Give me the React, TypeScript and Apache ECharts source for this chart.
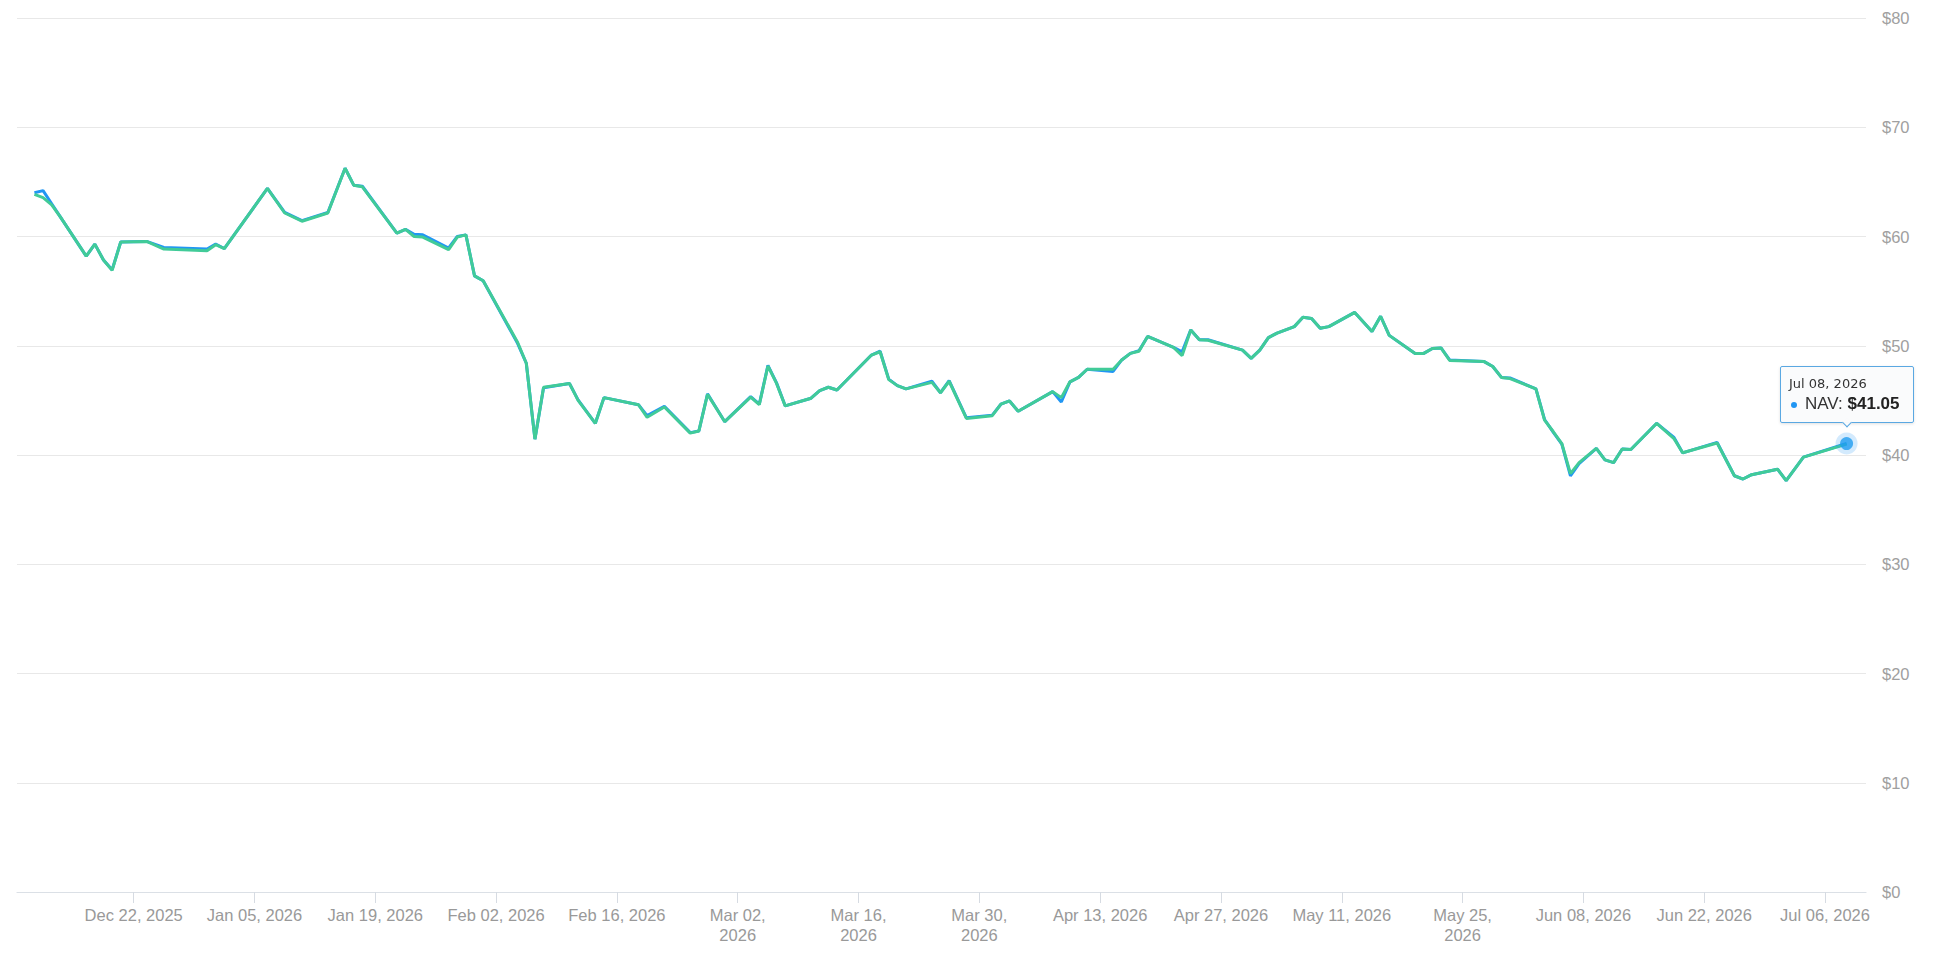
import { useEffect, useRef } from 'react'
import * as echarts from 'echarts'

// trading days
const dates = [
  '2025-12-10', '2025-12-11', '2025-12-12', '2025-12-13', '2025-12-16', '2025-12-17', '2025-12-18', '2025-12-19',
  '2025-12-20', '2025-12-23', '2025-12-25', '2025-12-30', '2025-12-31', '2026-01-01', '2026-01-06', '2026-01-08',
  '2026-01-10', '2026-01-13', '2026-01-15', '2026-01-16', '2026-01-17', '2026-01-21', '2026-01-22', '2026-01-23',
  '2026-01-24', '2026-01-27', '2026-01-28', '2026-01-29', '2026-01-30', '2026-01-31', '2026-02-04', '2026-02-05',
  '2026-02-06', '2026-02-07', '2026-02-10', '2026-02-11', '2026-02-13', '2026-02-14', '2026-02-18', '2026-02-19',
  '2026-02-21', '2026-02-24', '2026-02-25', '2026-02-26', '2026-02-28', '2026-03-03', '2026-03-04', '2026-03-05',
  '2026-03-06', '2026-03-07', '2026-03-10', '2026-03-11', '2026-03-12', '2026-03-13', '2026-03-17', '2026-03-18',
  '2026-03-19', '2026-03-20', '2026-03-21', '2026-03-24', '2026-03-25', '2026-03-26', '2026-03-28', '2026-03-31',
  '2026-04-01', '2026-04-02', '2026-04-03', '2026-04-07', '2026-04-08', '2026-04-09', '2026-04-10', '2026-04-11',
  '2026-04-14', '2026-04-15', '2026-04-16', '2026-04-17', '2026-04-18', '2026-04-21', '2026-04-22', '2026-04-23',
  '2026-04-24', '2026-04-25', '2026-04-29', '2026-04-30', '2026-05-01', '2026-05-02', '2026-05-03', '2026-05-05',
  '2026-05-06', '2026-05-07', '2026-05-08', '2026-05-09', '2026-05-12', '2026-05-14', '2026-05-15', '2026-05-16',
  '2026-05-19', '2026-05-20', '2026-05-21', '2026-05-22', '2026-05-23', '2026-05-27', '2026-05-28', '2026-05-29',
  '2026-05-30', '2026-06-02', '2026-06-03', '2026-06-04', '2026-06-05', '2026-06-06', '2026-06-07', '2026-06-09',
  '2026-06-10', '2026-06-11', '2026-06-12', '2026-06-13', '2026-06-16', '2026-06-18', '2026-06-19', '2026-06-23',
  '2026-06-25', '2026-06-26', '2026-06-27', '2026-06-30', '2026-07-01', '2026-07-03', '2026-07-08',
]

const navValues = [
  64.0, 64.2, 63.0, 61.8, 58.2, 59.3, 57.85, 56.95,
  59.5, 59.55, 59.0, 58.85, 59.3, 58.9, 64.4, 62.2,
  61.45, 62.2, 66.25, 64.7, 64.6, 60.3, 60.65, 60.2,
  60.15, 58.95, 60.0, 60.15, 56.4, 55.95, 50.2, 48.4,
  41.45, 46.15, 46.55, 45.05, 42.9, 45.25, 44.6, 43.6,
  44.45, 42.05, 42.2, 45.6, 43.05, 45.35, 44.65, 48.2,
  46.6, 44.5, 45.2, 45.9, 46.2, 45.95, 49.15, 49.5,
  46.95, 46.35, 46.05, 46.75, 45.7, 46.8, 43.4, 43.65,
  44.65, 44.95, 44.0, 45.8, 44.85, 46.7, 47.1, 47.85,
  47.65, 48.7, 49.3, 49.55, 50.85, 49.85, 49.45, 51.45,
  50.55, 50.55, 49.6, 48.85, 49.6, 50.75, 51.15, 51.75,
  52.6, 52.5, 51.6, 51.75, 53.05, 51.3, 52.7, 50.95,
  49.3, 49.3, 49.75, 49.8, 48.7, 48.55, 48.1, 47.1,
  47.05, 46.05, 43.25, 42.1, 41.0, 38.1, 39.2, 40.6,
  39.55, 39.3, 40.55, 40.5, 42.9, 41.6, 40.2, 41.15,
  38.1, 37.8, 38.2, 38.7, 37.65, 39.8, 41.05,
]

const priceValues = [
  63.85, 63.55, 62.9, 61.8, 58.2, 59.3, 57.85, 56.9,
  59.5, 59.55, 58.85, 58.7, 59.25, 58.9, 64.4, 62.15,
  61.4, 62.15, 66.25, 64.7, 64.55, 60.3, 60.65, 60.0,
  59.95, 58.8, 59.95, 60.15, 56.4, 55.95, 50.3, 48.4,
  41.45, 46.2, 46.55, 45.0, 42.9, 45.25, 44.6, 43.45,
  44.4, 42.0, 42.2, 45.55, 43.05, 45.3, 44.6, 48.15,
  46.55, 44.5, 45.2, 45.9, 46.2, 45.95, 49.15, 49.45,
  46.9, 46.35, 46.05, 46.65, 45.7, 46.75, 43.35, 43.6,
  44.65, 44.95, 44.0, 45.8, 45.25, 46.7, 47.1, 47.85,
  47.85, 48.7, 49.3, 49.5, 50.85, 49.85, 49.1, 51.45,
  50.55, 50.5, 49.6, 48.85, 49.6, 50.75, 51.15, 51.75,
  52.6, 52.5, 51.6, 51.75, 53.05, 51.3, 52.7, 50.95,
  49.3, 49.3, 49.75, 49.8, 48.65, 48.55, 48.1, 47.1,
  47.0, 46.05, 43.2, 42.15, 41.05, 38.3, 39.3, 40.6,
  39.55, 39.3, 40.55, 40.5, 42.9, 41.5, 40.2, 41.1,
  38.1, 37.8, 38.2, 38.7, 37.65, 39.8, 41.0,
]

const tickDates = [
  '2025-12-22', '2026-01-05', '2026-01-19', '2026-02-02', '2026-02-16', '2026-03-02', '2026-03-16', '2026-03-30',
  '2026-04-13', '2026-04-27', '2026-05-11', '2026-05-25', '2026-06-08', '2026-06-22', '2026-07-06',
]

const tickLabels = [
  'Dec 22, 2025', 'Jan 05, 2026', 'Jan 19, 2026', 'Feb 02, 2026', 'Feb 16, 2026', 'Mar 02,\n2026', 'Mar 16,\n2026',
  'Mar 30,\n2026', 'Apr 13, 2026', 'Apr 27, 2026', 'May 11, 2026', 'May 25,\n2026', 'Jun 08, 2026', 'Jun 22, 2026',
  'Jul 06, 2026',
]

const MONTHS = ['Jan', 'Feb', 'Mar', 'Apr', 'May', 'Jun', 'Jul', 'Aug', 'Sep', 'Oct', 'Nov', 'Dec']

const toTime = (s: string, hour = 0) => {
  const [y, m, d] = s.split('-').map(Number)
  return Date.UTC(y, m - 1, d, hour)
}

const fmtDate = (t: number) => {
  const d = new Date(t)
  return `${MONTHS[d.getUTCMonth()]} ${String(d.getUTCDate()).padStart(2, '0')}, ${d.getUTCFullYear()}`
}

export default function App() {
  const chartRef = useRef<HTMLDivElement>(null)

  useEffect(() => {
    if (!chartRef.current) return
    const chart = echarts.init(chartRef.current, undefined, { renderer: 'svg' })

    const tickTimes = tickDates.map(d => toTime(d))
    const navData = dates.map((d, i) => [toTime(d, 12), navValues[i]])
    const priceData = dates.map((d, i) => [toTime(d, 12), priceValues[i]])
    const last = navData[navData.length - 1]

    chart.setOption({
      animation: false,
      grid: { left: 17, right: 68, top: 18, bottom: 68 },
      tooltip: {
        trigger: 'item',
        triggerOn: 'none',
        position: 'top',
        alwaysShowContent: true,
        transitionDuration: 0,
        backgroundColor: 'rgba(250,251,252,0.97)',
        borderColor: '#5aa8e2',
        borderWidth: 1,
        padding: [7, 13, 7, 8],
        extraCssText: 'box-shadow: 0 1px 3px rgba(0,0,0,0.12); border-radius: 2px;',
        formatter: (p: any) =>
          `<div style="font-family:'DejaVu Sans',sans-serif;font-size:13px;line-height:19px;color:#333">${fmtDate(p.value[0])}</div>` +
          `<div style="font-family:'Liberation Sans',Arial,sans-serif;font-size:17px;line-height:22px;color:#333">` +
          `<span style="display:inline-block;width:6px;height:6px;border-radius:3px;background:#2196f3;margin:0 8px 0 2px;vertical-align:middle"></span>` +
          `NAV: <b style="color:#222">$${p.value[1].toFixed(2)}</b></div>`,
      },
      xAxis: {
        type: 'value',
        min: Date.UTC(2025, 11, 8, 11, 30),
        max: Date.UTC(2026, 6, 10, 18),
        axisLine: { show: true, onZero: false, lineStyle: { color: '#dbe0e6', width: 1.2 } },
        axisTick: { show: true, length: 11, customValues: tickTimes, lineStyle: { color: '#d6dbe2' } },
        axisLabel: {
          customValues: tickTimes,
          color: '#999',
          fontSize: 16.5,
          fontFamily: 'Liberation Sans, Arial, sans-serif',
          lineHeight: 20,
          margin: 13,
          formatter: (v: number) => {
            const i = tickTimes.indexOf(v)
            return i >= 0 ? tickLabels[i] : ''
          },
        },
        splitLine: { show: false },
      },
      yAxis: {
        type: 'value',
        position: 'right',
        min: 0,
        max: 80,
        interval: 10,
        axisLine: { show: false },
        axisTick: { show: false },
        axisLabel: {
          color: '#a0a0a0',
          fontSize: 16.5,
          fontFamily: 'Liberation Sans, Arial, sans-serif',
          margin: 16,
          formatter: (v: number) => `$${v}`,
        },
        splitLine: { lineStyle: { color: '#e8e8e8', width: 1 } },
      },
      series: [
        {
          name: 'NAV',
          type: 'line',
          data: navData,
          symbol: 'none',
          lineStyle: { color: '#2196f3', width: 3 },
          itemStyle: { color: '#2196f3' },
          emphasis: { disabled: true },
          tooltip: { show: false },
          z: 2,
        },
        {
          name: 'Price',
          type: 'line',
          data: priceData,
          symbol: 'none',
          lineStyle: { color: '#41cb98', width: 3 },
          itemStyle: { color: '#41cb98' },
          emphasis: { disabled: true },
          tooltip: { show: false },
          z: 3,
        },
        {
          name: 'halo',
          type: 'scatter',
          data: [last],
          symbolSize: 22,
          itemStyle: { color: 'rgba(33,150,243,0.25)' },
          emphasis: { disabled: true },
          z: 4,
        },
        {
          name: 'dot',
          type: 'scatter',
          data: [last],
          symbolSize: 13,
          itemStyle: { color: '#1f9cf0' },
          emphasis: { disabled: true },
          tooltip: { show: false },
          silent: true,
          z: 5,
        },
      ],
    })

    chart.dispatchAction({ type: 'showTip', seriesIndex: 2, dataIndex: 0 })
    const timer = setTimeout(() => chart.dispatchAction({ type: 'showTip', seriesIndex: 2, dataIndex: 0 }), 50)

    return () => {
      clearTimeout(timer)
      chart.dispose()
    }
  }, [])

  return (
    <div style={{ position: 'fixed', left: 0, top: 0, width: 1934, height: 960, background: '#fff' }}>
      <div ref={chartRef} style={{ width: 1934, height: 960 }} />
    </div>
  )
}
